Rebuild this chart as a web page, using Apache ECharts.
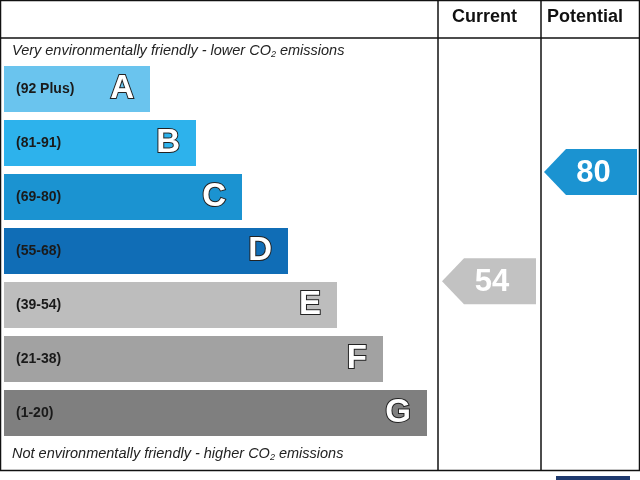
<!DOCTYPE html>
<html><head><meta charset="utf-8">
<script src="https://cdn.jsdelivr.net/npm/echarts@6/dist/echarts.min.js"></script>
<style>html,body{margin:0;padding:0;background:#fff}#c{width:640px;height:480px}</style>
</head><body><div id="c"></div>
<script>
var bands = ['A', 'B', 'C', 'D', 'E', 'F', 'G'];
var ranges = ['(92 Plus)', '(81-91)', '(69-80)', '(55-68)', '(39-54)', '(21-38)', '(1-20)'];
var bandLength = [146, 192, 238, 284, 333, 379, 423];
var bandColors = ['#6ac4ee', '#2db2ec', '#1b93d1', '#106db6', '#bdbdbd', '#a2a2a2', '#7f7f7f'];
var currentScore = 54;
var potentialScore = 80;

var chart = echarts.init(document.getElementById('c'));
var F = 'Liberation Sans, Arial, sans-serif';

function arrow(color, textColor, xLeft, xRight) {
    return function (params, api) {
        var p = api.coord([0, api.value(0)]);
        var y = p[1], h = 23;
        return {
            type: 'group',
            children: [{
                type: 'polygon',
                shape: { points: [[xLeft, y], [xLeft + 22, y - h], [xRight, y - h], [xRight, y + h], [xLeft + 22, y + h]] },
                style: { fill: color }
            }, {
                type: 'text',
                style: { text: String(api.value(0)), x: (xLeft + xRight) / 2 + 3, y: y + 1, align: 'center', verticalAlign: 'middle',
                    fill: textColor, font: 'bold 31px ' + F }
            }]
        };
    };
}

function note(text, y) {
    return {
        type: 'text', left: 12, top: y,
        style: {
            text: text.replace('CO2', 'CO{s|2}'), fill: '#222', font: 'italic 14.5px ' + F,
            rich: { s: { fontSize: 9, fontStyle: 'italic', padding: [8, 0, 0, 0], fill: '#222' } }
        }
    };
}

chart.setOption({
    animation: false,
    grid: [
        { left: 4, top: 62, width: 500, height: 378 },
        { left: 0, top: 130, width: 640, height: 210 }
    ],
    xAxis: [
        { gridIndex: 0, type: 'value', min: 0, max: 500, show: false },
        { gridIndex: 1, type: 'value', min: 0, max: 640, show: false }
    ],
    yAxis: [
        { gridIndex: 0, type: 'category', inverse: true, data: bands, show: false },
        { gridIndex: 1, type: 'value', min: 40, max: 90, show: false }
    ],
    graphic: [
        { type: 'rect', shape: { x: 0.5, y: 0.5, width: 639, height: 470 }, style: { fill: 'none', stroke: '#111', lineWidth: 1.5 } },
        { type: 'line', shape: { x1: 438, y1: 0, x2: 438, y2: 470 }, style: { stroke: '#111', lineWidth: 1.5 } },
        { type: 'line', shape: { x1: 541, y1: 0, x2: 541, y2: 470 }, style: { stroke: '#111', lineWidth: 1.5 } },
        { type: 'line', shape: { x1: 0, y1: 38, x2: 640, y2: 38 }, style: { stroke: '#111', lineWidth: 1.5 } },
        { type: 'rect', shape: { x: 556, y: 476, width: 74, height: 6 }, style: { fill: '#1f3a6e' } },
        { type: 'text', left: 452, top: 8, style: { text: 'Current', fill: '#111', font: 'bold 18px ' + F } },
        { type: 'text', left: 547, top: 8, style: { text: 'Potential', fill: '#111', font: 'bold 18px ' + F } },
        note('Very environmentally friendly - lower CO2 emissions', 43),
        note('Not environmentally friendly - higher CO2 emissions', 446)
    ],
    series: [{
        type: 'bar', xAxisIndex: 0, yAxisIndex: 0, barWidth: 46,
        data: bandLength.map(function (v, i) { return { value: v, itemStyle: { color: bandColors[i] } }; }),
        label: { show: true, position: 'insideRight', distance: 16, formatter: '{b}',
            color: '#fff', fontSize: 33, fontWeight: 'bold', fontFamily: F, textBorderColor: '#222', textBorderWidth: 2 }
    }, {
        type: 'bar', xAxisIndex: 0, yAxisIndex: 0, barWidth: 46, barGap: '-100%',
        data: bandLength, itemStyle: { color: 'transparent' },
        label: { show: true, position: 'insideLeft', distance: 12,
            formatter: function (p) { return ranges[p.dataIndex]; },
            color: '#1a1a1a', fontSize: 14, fontWeight: 'bold', fontFamily: F }
    }, {
        type: 'custom', xAxisIndex: 1, yAxisIndex: 1, data: [[currentScore]],
        renderItem: arrow('#c2c2c2', '#fff', 442, 536)
    }, {
        type: 'custom', xAxisIndex: 1, yAxisIndex: 1, data: [[potentialScore]],
        renderItem: arrow('#1b93d1', '#fff', 544, 637)
    }]
});
</script></body></html>
